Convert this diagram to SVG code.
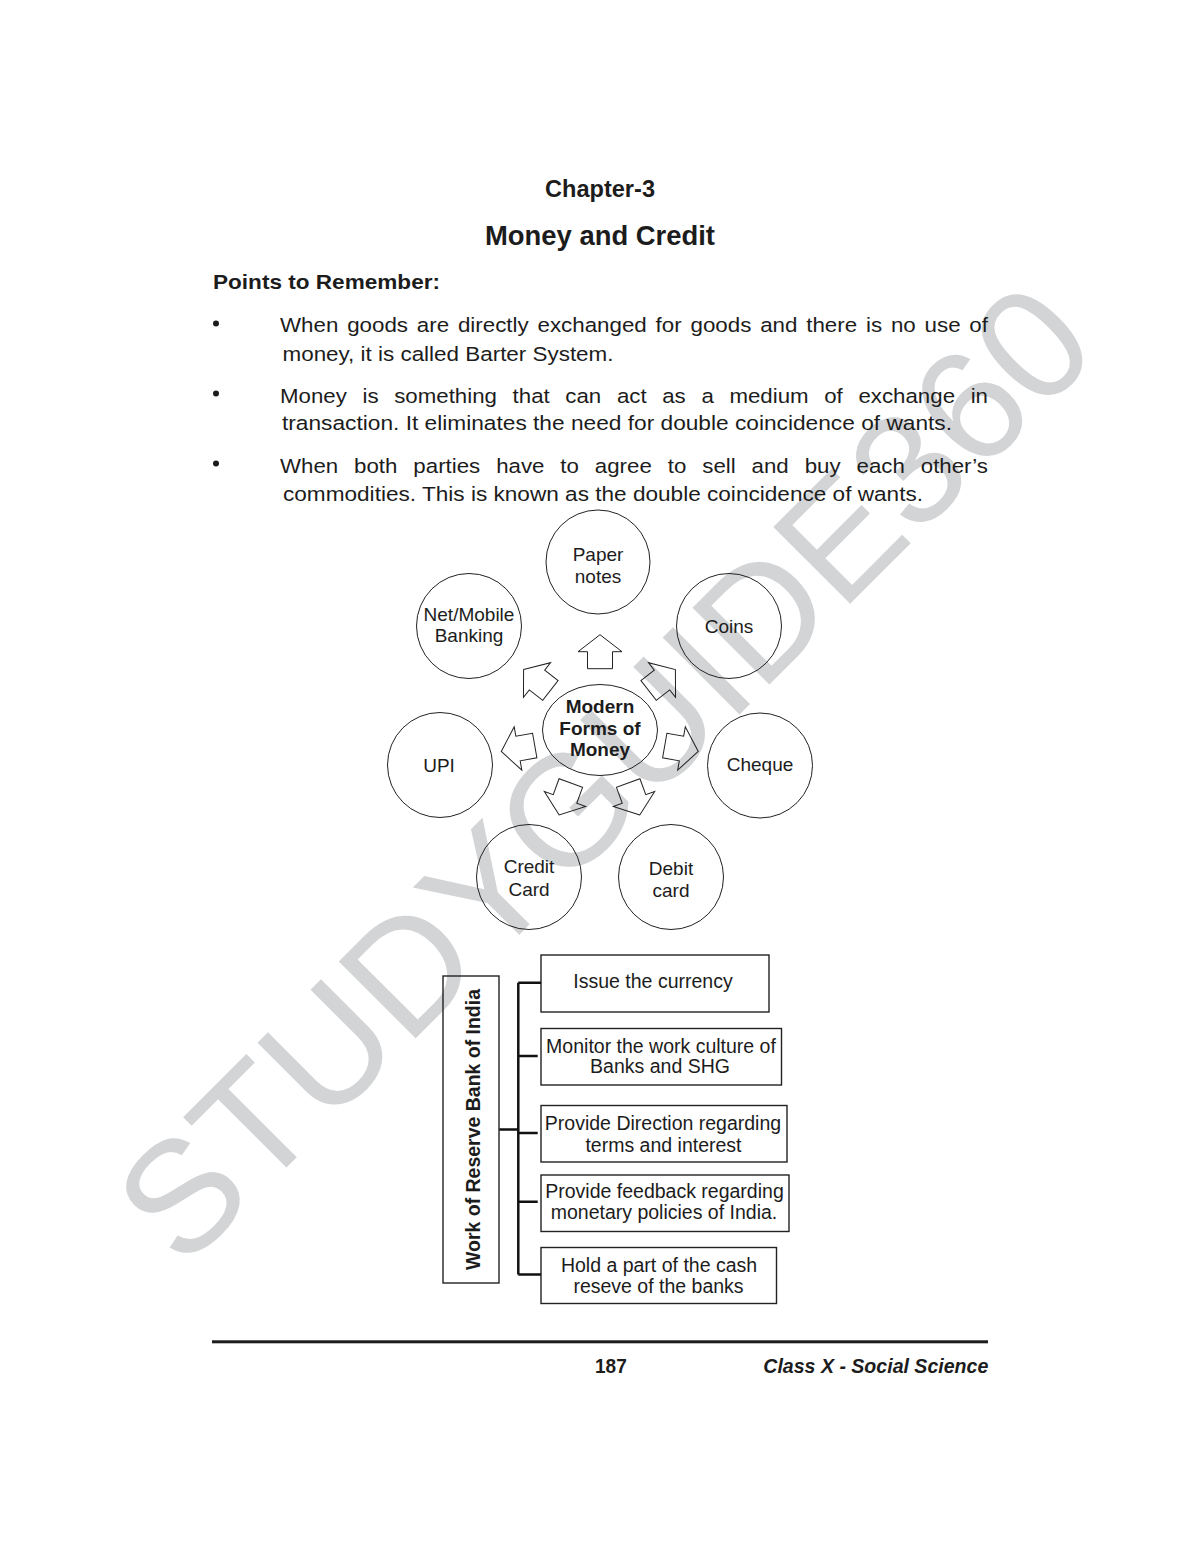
<svg xmlns="http://www.w3.org/2000/svg" width="1200" height="1553" viewBox="0 0 1200 1553">
<style>
text{font-family:"Liberation Sans",Arial,Helvetica,sans-serif;fill:#1c1c1c}
.body{font-size:20.5px}
.lbl{font-size:19px;text-anchor:middle}
.blbl{font-size:19.5px;text-anchor:middle}
.bold{font-weight:bold}
.box{fill:none;stroke:#222;stroke-width:1.4}
.circ{fill:none;stroke:#222;stroke-width:1}
.arr{fill:none;stroke:#222;stroke-width:1;stroke-linejoin:miter}
.wm{font-size:158px;fill:#d3d4d6}
.conn{fill:none;stroke:#111;stroke-width:2.5}
</style>
<defs>
<path id="blk" d="M0,-17 L22,0 L12.5,0 L12.5,17 L-12.5,17 L-12.5,0 L-22,0 Z"/>
</defs>
<rect width="1200" height="1553" fill="#fff"/>

<g id="watermark">
<text class="wm" transform="translate(183,1271) rotate(-45)">STUDYGUIDE360</text>
</g>

<g id="header">
<text class="bold" x="600" y="197" font-size="23" text-anchor="middle" textLength="110" lengthAdjust="spacingAndGlyphs">Chapter-3</text>
<text class="bold" x="600" y="245" font-size="27" text-anchor="middle" textLength="230" lengthAdjust="spacingAndGlyphs">Money and Credit</text>
<text class="bold" x="213" y="288.5" font-size="20.5" textLength="227" lengthAdjust="spacingAndGlyphs">Points to Remember:</text>
</g>

<g id="points">
<circle cx="216" cy="323.5" r="3" fill="#1c1c1c"/>
<circle cx="216" cy="393.5" r="3" fill="#1c1c1c"/>
<circle cx="216" cy="463.5" r="3" fill="#1c1c1c"/>
<text class="body" x="280" y="332" word-spacing="2.4" textLength="708" lengthAdjust="spacingAndGlyphs">When goods are directly exchanged for goods and there is no use of</text>
<text class="body" x="282.5" y="360.5" textLength="331" lengthAdjust="spacingAndGlyphs">money, it is called Barter System.</text>
<text class="body" x="280" y="402.5" word-spacing="8.7" textLength="708" lengthAdjust="spacingAndGlyphs">Money is something that can act as a medium of exchange in</text>
<text class="body" x="282" y="430" textLength="670" lengthAdjust="spacingAndGlyphs">transaction. It eliminates the need for double coincidence of wants.</text>
<text class="body" x="280" y="472.5" word-spacing="9" textLength="708" lengthAdjust="spacingAndGlyphs">When both parties have to agree to sell and buy each other’s</text>
<text class="body" x="283" y="500.5" textLength="640" lengthAdjust="spacingAndGlyphs">commodities. This is known as the double coincidence of wants.</text>
</g>

<g id="node-center">
<ellipse class="circ" cx="600" cy="730" rx="57.5" ry="45.5"/>
<text class="lbl bold" x="600" y="713">Modern</text>
<text class="lbl bold" x="600" y="735">Forms of</text>
<text class="lbl bold" x="600" y="756">Money</text>
</g>
<g id="node-paper-notes">
<circle class="circ" cx="598" cy="562" r="52"/>
<text class="lbl" x="598" y="561">Paper</text>
<text class="lbl" x="598" y="583">notes</text>
</g>
<g id="node-net-mobile-banking">
<circle class="circ" cx="469" cy="626" r="52.5"/>
<text class="lbl" x="469" y="621">Net/Mobile</text>
<text class="lbl" x="469" y="642">Banking</text>
</g>
<g id="node-coins">
<circle class="circ" cx="729" cy="626" r="52.5"/>
<text class="lbl" x="729" y="633">Coins</text>
</g>
<g id="node-upi">
<circle class="circ" cx="440" cy="765" r="52.5"/>
<text class="lbl" x="439" y="772">UPI</text>
</g>
<g id="node-cheque">
<circle class="circ" cx="760" cy="765.5" r="52.5"/>
<text class="lbl" x="760" y="771">Cheque</text>
</g>
<g id="node-credit-card">
<circle class="circ" cx="529" cy="877" r="52.5"/>
<text class="lbl" x="529" y="873">Credit</text>
<text class="lbl" x="529" y="896">Card</text>
</g>
<g id="node-debit-card">
<circle class="circ" cx="671" cy="877" r="52.5"/>
<text class="lbl" x="671" y="875">Debit</text>
<text class="lbl" x="671" y="897">card</text>
</g>

<g id="node-rbi">
<rect class="box" x="443" y="976" width="56" height="307"/>
<text class="bold" font-size="21" text-anchor="middle" transform="translate(480,1129.5) rotate(-90)" textLength="281" lengthAdjust="spacingAndGlyphs">Work of Reserve Bank of India</text>
</g>
<g id="node-issue">
<rect class="box" x="541" y="955" width="228" height="57"/>
<text class="blbl" x="653" y="988">Issue the currency</text>
</g>
<g id="node-monitor">
<rect class="box" x="541" y="1028.5" width="240.5" height="56.5"/>
<text class="blbl" x="661" y="1053">Monitor the work culture of</text>
<text class="blbl" x="660" y="1073">Banks and SHG</text>
</g>
<g id="node-direction">
<rect class="box" x="541" y="1105.5" width="246" height="56.5"/>
<text class="blbl" x="663" y="1130">Provide Direction regarding</text>
<text class="blbl" x="663.5" y="1152">terms and interest</text>
</g>
<g id="node-feedback">
<rect class="box" x="541" y="1175" width="248" height="56.5"/>
<text class="blbl" x="664.5" y="1198">Provide feedback regarding</text>
<text class="blbl" x="664" y="1219">monetary policies of India.</text>
</g>
<g id="node-cash">
<rect class="box" x="541" y="1247.5" width="235.5" height="56"/>
<text class="blbl" x="659" y="1272">Hold a part of the cash</text>
<text class="blbl" x="658.5" y="1293">reseve of the banks</text>
</g>

<g id="connectors">
<use href="#blk" class="arr" transform="translate(600,651.7)"/>
<use href="#blk" class="arr" transform="translate(537,680) rotate(-52)"/>
<use href="#blk" class="arr" transform="translate(662,680) rotate(52)"/>
<use href="#blk" class="arr" transform="translate(518,748.5) rotate(-100)"/>
<use href="#blk" class="arr" transform="translate(681.5,748.5) rotate(100)"/>
<use href="#blk" class="arr" transform="translate(565,799) rotate(-160)"/>
<use href="#blk" class="arr" transform="translate(634,799) rotate(160)"/>
<path class="conn" d="M499.3,1129.5 H518.3 M518.3,982.7 V1274.5 M518.3,982.7 H541 M518.3,1056 H537.7 M518.3,1133 H537.7 M518.3,1201.7 H537.7 M518.3,1274.5 H541"/>
</g>

<g id="footer">
<rect x="212" y="1340.3" width="776" height="3" fill="#1c1c1c"/>
<text class="bold" x="595" y="1372.7" font-size="20" textLength="31.7" lengthAdjust="spacingAndGlyphs">187</text>
<text class="bold" x="763.3" y="1372.7" font-size="20" font-style="italic" textLength="225" lengthAdjust="spacingAndGlyphs">Class X - Social Science</text>
</g>
</svg>
